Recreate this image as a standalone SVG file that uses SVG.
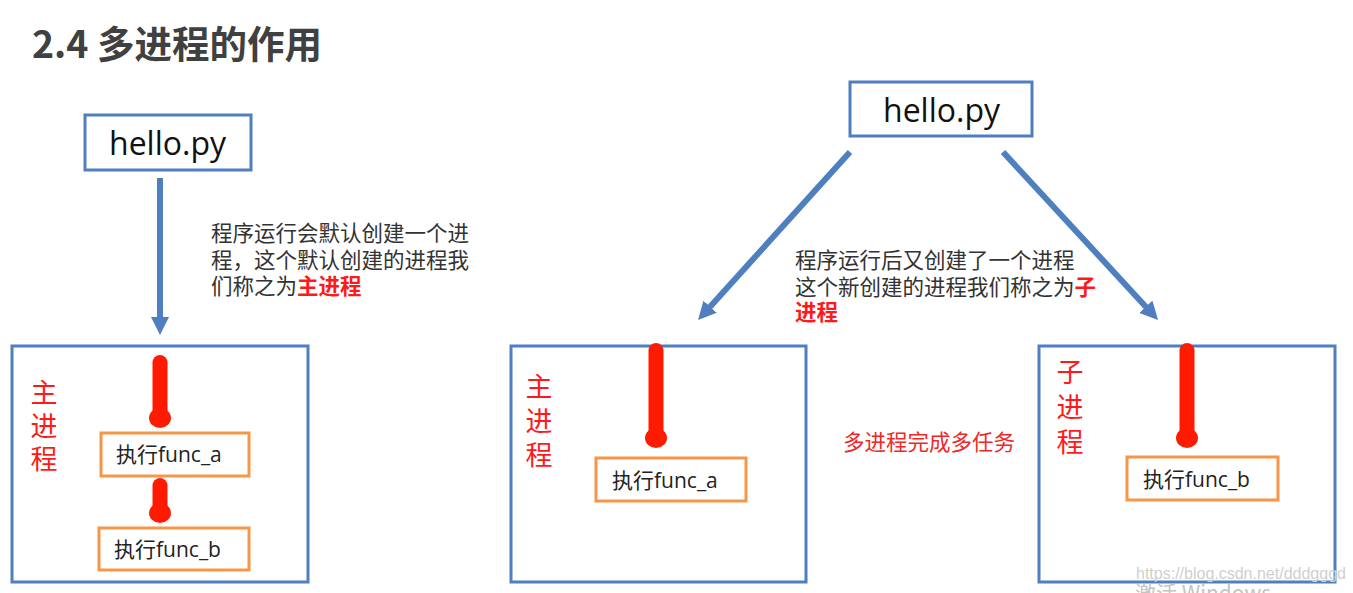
<svg xmlns="http://www.w3.org/2000/svg" width="1353" height="593" viewBox="0 0 1353 593">
  <style>
    .title { font-family: "Noto Sans CJK SC", sans-serif; font-weight: bold; font-size: 37.5px; fill: #404040; }
    .hello { font-family: "Open Sans", "Liberation Sans", sans-serif; font-size: 32px; fill: #111; }
    .desc { font-family: "Noto Sans CJK SC", sans-serif; font-size: 21.5px; fill: #333; }
    .hl { fill: #ff1a1a; font-weight: bold; }
    .vlabel { font-family: "Noto Sans CJK SC", sans-serif; font-size: 27px; fill: #ff1a1a; text-anchor: middle; }
    .func { font-family: "Open Sans", "Noto Sans CJK SC", sans-serif; font-size: 21px; fill: #222; }
    .redtxt { font-family: "Noto Sans CJK SC", sans-serif; font-size: 21.5px; fill: #f02828; }
    .proc { fill: #fff; stroke: #4f7fbf; stroke-width: 3; }
    .fbox { fill: #fff; stroke: #f79646; stroke-width: 3; }
    .conn { stroke: #4f7fbf; stroke-width: 6; fill: none; marker-end: url(#ah); }
    .bar { fill: #ff1a00; }
    .wm { font-family: "Liberation Sans", sans-serif; font-size: 16px; fill: #cfcfcf; }
    .wm2 { font-family: "Noto Sans CJK SC", sans-serif; font-size: 21px; fill: #c4c4c4; }
  </style>
  <defs>
    <marker id="ah" viewBox="0 0 10 10" markerWidth="3" markerHeight="3" refX="3" refY="5" orient="auto" markerUnits="strokeWidth">
      <path d="M0,0 L10,5 L0,10 z" fill="#4f7fbf"/>
    </marker>
  </defs>
  <rect width="1353" height="593" fill="#fff"/>

  <text class="title" x="32" y="58">2.4 多进程的作用</text>

  <g id="hello-left">
    <rect class="proc" x="85" y="115" width="166" height="55"/>
    <text class="hello" x="109" y="155">hello.py</text>
  </g>
  <g id="hello-right">
    <rect class="proc" x="850" y="82" width="182" height="54"/>
    <text class="hello" x="883" y="122">hello.py</text>
  </g>

  <g id="connectors">
    <line class="conn" x1="160" y1="178" x2="160" y2="322.4"/>
    <line class="conn" x1="850" y1="152" x2="706.5" y2="310.7"/>
    <line class="conn" x1="1003" y1="152" x2="1149.5" y2="310.7"/>
  </g>

  <g id="desc-left">
    <text class="desc" x="211" y="241">程序运行会默认创建一个进</text>
    <text class="desc" x="211" y="268">程，这个默认创建的进程我</text>
    <text class="desc" x="211" y="294">们称之为<tspan class="hl">主进程</tspan></text>
  </g>
  <g id="desc-right">
    <text class="desc" x="795" y="268">程序运行后又创建了一个进程</text>
    <text class="desc" x="795" y="295">这个新创建的进程我们称之为<tspan class="hl">子</tspan></text>
    <text class="desc" x="795" y="320"><tspan class="hl">进程</tspan></text>
  </g>

  <g id="main-process-left">
    <rect class="proc" x="12" y="346" width="296" height="236"/>
    <text class="vlabel" x="44" y="403">主</text>
    <text class="vlabel" x="44" y="436">进</text>
    <text class="vlabel" x="44" y="469">程</text>
    <rect class="bar" x="152.5" y="355" width="15" height="66" rx="7.5"/>
    <ellipse class="bar" cx="160" cy="418" rx="11" ry="10"/>
    <rect class="bar" x="152.5" y="478" width="15" height="38" rx="7.5"/>
    <ellipse class="bar" cx="160" cy="513" rx="11" ry="10"/>
  </g>
  <g id="func-a-left">
    <rect class="fbox" x="101" y="433" width="148" height="43"/>
    <text class="func" x="116" y="462">执行func_a</text>
  </g>
  <g id="func-b-left">
    <rect class="fbox" x="99" y="528" width="150" height="42"/>
    <text class="func" x="114" y="557">执行func_b</text>
  </g>

  <g id="main-process-middle">
    <rect class="proc" x="511" y="346" width="295" height="236"/>
    <text class="vlabel" x="539" y="397">主</text>
    <text class="vlabel" x="539" y="431">进</text>
    <text class="vlabel" x="539" y="465">程</text>
    <rect class="bar" x="648.5" y="343" width="15" height="98" rx="7.5"/>
    <ellipse class="bar" cx="656" cy="438" rx="11" ry="10"/>
  </g>
  <g id="func-a-middle">
    <rect class="fbox" x="596" y="458" width="150" height="43"/>
    <text class="func" x="612" y="488">执行func_a</text>
  </g>

  <g id="multi-task-label">
    <text class="redtxt" x="843" y="450">多进程完成多任务</text>
  </g>

  <g id="child-process">
    <rect class="proc" x="1039" y="346" width="296" height="236"/>
    <text class="vlabel" x="1070" y="382">子</text>
    <text class="vlabel" x="1070" y="417">进</text>
    <text class="vlabel" x="1070" y="452">程</text>
    <rect class="bar" x="1179.5" y="343" width="15" height="98" rx="7.5"/>
    <ellipse class="bar" cx="1187" cy="438" rx="11" ry="10"/>
  </g>
  <g id="func-b-right">
    <rect class="fbox" x="1127" y="457" width="151" height="43"/>
    <text class="func" x="1143" y="487">执行func_b</text>
  </g>

  <text class="wm" x="1136" y="579">https://blog.csdn.net/dddgggd</text>
  <text class="wm2" x="1135" y="601">激活 Windows</text>
</svg>
